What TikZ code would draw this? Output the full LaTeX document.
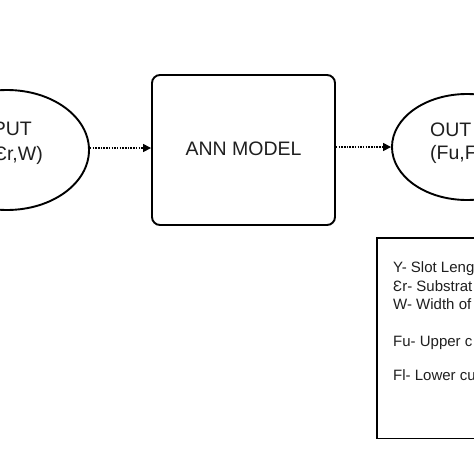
\documentclass[tikz,border=0pt]{standalone}
\usepackage{fontspec}
\setmainfont{Liberation Sans}
\usetikzlibrary{shapes.geometric,arrows.meta}
\begin{document}
\begin{tikzpicture}[x=1pt,y=-1pt,
  shape line/.style={draw=black,line width=1.9pt},
  oval/.style={shape line,ellipse,inner sep=0pt},
  flow/.style={line width=1.5pt,dash pattern=on 1.5pt off 1.2pt,-{Triangle[length=8pt,width=8pt]}},
  big/.style={inner sep=0pt,text=black!88,font=\fontsize{19.5}{23}\selectfont},
  small/.style={inner sep=0pt,anchor=base west,text=black!88,font=\fontsize{15}{18}\selectfont}]
\useasboundingbox (0,0) rectangle (474,474);
\clip (0,0) rectangle (474,474);
\fill[white] (0,0) rectangle (474,474);
% input ellipse
\node[oval,minimum width=164pt,minimum height=120pt] (in) at (7,150) {};
\node[big,anchor=base east] (in1) at (32,135) {PUT};
\node[big,anchor=base east] (in2) at (43,160) {Ɛr,W)};
% ANN box
\node[shape line,rounded corners=8pt,minimum width=183pt,minimum height=150pt,inner sep=0pt] (ann) at (243.5,150) {};
\node[big,anchor=base] (annt) at (243.5,155) {ANN MODEL};
% output ellipse
\node[oval,minimum width=150pt,minimum height=106pt] (out) at (467,147) {};
\node[big,anchor=base west] (out1) at (430,136) {OUT};
\node[big,anchor=base west] (out2) at (430,159) {(Fu,F};
% connectors
\draw[flow] (in.east |- 0,148) -- (ann.west |- 0,148);
\draw[flow] (ann.east |- out.west) -- (out.west);
% legend
\draw[shape line] (500,238) -- (377,238) -- (377,438.5) -- (500,438.5);
\node[small] (l1) at (393,272) {Y- Slot Leng};
\node[small] (l2) at (393,291) {Ɛr- Substrat};
\node[small] (l3) at (393,309) {W- Width of};
\node[small] (l4) at (393,346) {Fu- Upper c};
\node[small] (l5) at (393,380) {Fl- Lower cu};
\end{tikzpicture}
\end{document}
